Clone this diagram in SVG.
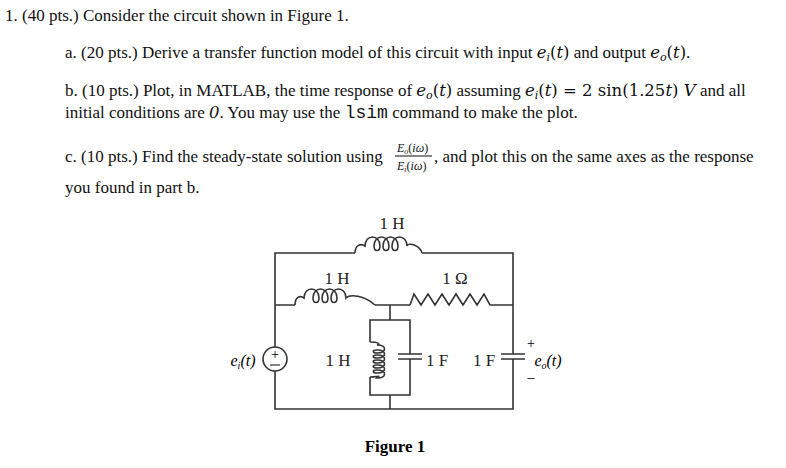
<svg xmlns="http://www.w3.org/2000/svg" width="786" height="468" viewBox="0 0 786 468">
<style>
.t{font-family:"Liberation Serif",serif;font-size:17px;fill:#111}
.m{font-family:"DejaVu Serif",serif;font-style:italic;font-size:16.5px}
.f{font-family:"Liberation Serif",serif;font-style:italic;font-size:12px;fill:#111}
.c{font-family:"Liberation Serif",serif;font-size:17px;fill:#222}
.w{fill:none;stroke:#333;stroke-width:1.6}
</style>
<rect width="786" height="468" fill="#fff"/>
<g id="text">
<text class="t" x="5" y="21">1. (40 pts.) Consider the circuit shown in Figure 1.</text>
<text class="t" x="65" y="58">a. (20 pts.) Derive a transfer function model of this circuit with input <tspan class="m">e<tspan font-size="11" dy="3">i</tspan><tspan dy="-3" font-style="normal">(</tspan>t<tspan font-style="normal">)</tspan></tspan> and output <tspan class="m">e<tspan font-size="11" dy="3">o</tspan><tspan dy="-3" font-style="normal">(</tspan>t<tspan font-style="normal">)</tspan></tspan>.</text>
<text class="t" x="65" y="96">b. (10 pts.) Plot, in MATLAB, the time response of <tspan class="m">e<tspan font-size="11" dy="3">o</tspan><tspan dy="-3" font-style="normal">(</tspan>t<tspan font-style="normal">)</tspan></tspan> assuming <tspan class="m">e<tspan font-size="11" dy="3">i</tspan><tspan dy="-3" font-style="normal">(</tspan>t<tspan font-style="normal">) = 2 sin(1.25</tspan>t<tspan font-style="normal">) </tspan>V</tspan> and all</text>
<text class="t" x="65" y="118">initial conditions are <tspan class="m" font-style="normal">0</tspan>.  You may use the <tspan font-family="Liberation Mono,monospace" font-size="18">lsim</tspan> command to make the plot.</text>
<text class="t" x="65" y="162">c. (10 pts.) Find the steady-state solution using</text>
<text class="f" x="397" y="152">E<tspan font-size="8" dy="2">o</tspan><tspan dy="-2" font-style="normal">(</tspan>iω<tspan font-style="normal">)</tspan></text>
<line x1="395" y1="156" x2="432" y2="156" stroke="#111" stroke-width="1"/>
<text class="f" x="397" y="170">E<tspan font-size="8" dy="2">i</tspan><tspan dy="-2" font-style="normal">(</tspan>iω<tspan font-style="normal">)</tspan></text>
<text class="t" x="434" y="162">, and plot this on the same axes as the response</text>
<text class="t" x="65" y="193">you found in part b.</text>
</g>
<g id="connectors">
<path class="w" d="M355,253 H275 V347 M275,371 V409 H513 V359 M513,354 V305 H495 M410,305 H375 M295,305 H275 M422,253 H513 V305 M390,305 V320 H370 V342 M370,377 V395 H390 V409 M390,320 H410 V354 M410,359 V395 H390"/>
</g>
<g id="L1"><path class="w" d="M355,253 C355,245 361,243 365,246 c0,-12 15,-12 15,0 c0,6 -6,6 -6,0 c0,-12 15,-12 15,0 c0,6 -6,6 -6,0 c0,-12 15,-12 15,0 c0,6 -6,6 -6,0 c0,-12 15,-12 15,0 C408,242 420,245 422,253"/>
<text class="c" x="392" y="229" text-anchor="middle">1 H</text></g>
<g id="L2"><path class="w" d="M295,305 C295,297 300,295 304,298 c0,-12 15,-12 15,0 c0,6 -6,6 -6,0 c0,-12 15,-12 15,0 c0,6 -6,6 -6,0 c0,-12 15,-12 15,0 c0,6 -6,6 -6,0 c0,-12 15,-12 15,0 C350,294 364,295 375,305"/>
<text class="c" x="337" y="284" text-anchor="middle">1 H</text></g>
<g id="R"><path class="w" d="M410,305 L414,294 L421,305 L428,294 L435,305 L442,294 L449,305 L456,294 L463,305 L470,294 L477,305 L484,294 L490,305 H495"/>
<text class="c" x="455" y="284" text-anchor="middle">1 Ω</text></g>
<g id="L3"><path class="w" d="M370,342 C378,342 381,344 377,345 c10,0 10,8 0,8 c-5,0 -5,-3 0,-3 c10,0 10,8 0,8 c-5,0 -5,-3 0,-3 c10,0 10,8 0,8 c-5,0 -5,-3 0,-3 c10,0 10,8 0,8 c-5,0 -5,-3 0,-3 c10,0 10,8 0,8 c-5,0 -5,-3 0,-3 c10,0 10,8 0,8 C381,375 378,377 370,377"/>
<text class="c" x="338" y="366" text-anchor="middle">1 H</text></g>
<g id="C1"><path class="w" d="M398,354 H422 M398,359 H422"/><text class="c" x="437" y="366" text-anchor="middle">1 F</text></g>
<g id="C2"><path class="w" d="M501,354 H525 M501,359 H525"/><text class="c" x="484" y="366" text-anchor="middle">1 F</text></g>
<g id="src"><circle cx="275" cy="359" r="12" fill="#fff" stroke="#333" stroke-width="1.6"/>
<text x="275" y="359" text-anchor="middle" font-family="Liberation Serif,serif" font-size="14">+</text>
<line x1="270" y1="365" x2="280" y2="365" stroke="#333" stroke-width="1.2"/>
<text x="243" y="366" text-anchor="middle" font-family="Liberation Serif,serif" font-style="italic" font-size="16">e<tspan font-size="10" dy="3">i</tspan><tspan dy="-3">(t)</tspan></text></g>
<g id="out"><text x="531" y="348" text-anchor="middle" font-family="Liberation Serif,serif" font-size="14">+</text>
<text x="531" y="382" text-anchor="middle" font-family="Liberation Serif,serif" font-size="14">–</text>
<text x="548" y="366" text-anchor="middle" font-family="Liberation Serif,serif" font-style="italic" font-size="16">e<tspan font-size="10" dy="3">o</tspan><tspan dy="-3">(t)</tspan></text></g>
<text x="395" y="452" text-anchor="middle" font-family="Liberation Serif,serif" font-weight="bold" font-size="17">Figure 1</text>
</svg>
